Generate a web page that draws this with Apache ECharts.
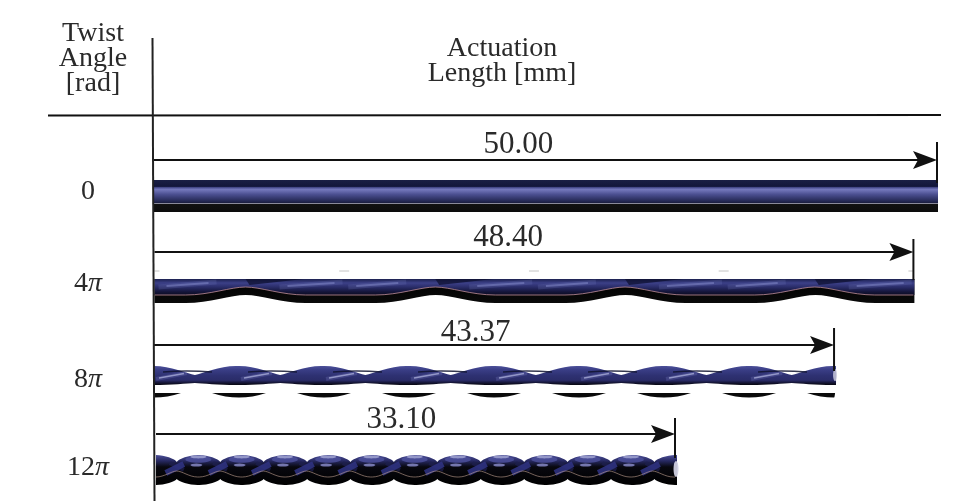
<!DOCTYPE html>
<html>
<head>
<meta charset="utf-8">
<style>html,body{margin:0;padding:0;background:#fff}#c{width:959px;height:501px}</style>
<script src="https://cdn.jsdelivr.net/npm/echarts@6/dist/echarts.min.js"></script>
</head>
<body>
<div id="c"></div>
<script>
// ---- data ----
const twistLabels = ['0', '4π', '8π', '12π'];
const twistMultiples = [0, 4, 8, 12];           // twist angle in units of π; also the number of lobes drawn
const actuationLengths = [50.00, 48.40, 43.37, 33.10];

// ---- per-row drawing style (pixel offsets relative to the row centre) ----
const FONT = '"Liberation Serif","DejaVu Serif",serif';
const ROW_STYLE = [
  { dx: 0,   arrow: -36, label: -51, frac: .466, tickUp: -18, tickDown: 23, pad: 8 },
  { dx: 1.5, arrow: -36, label: -50, frac: .466, tickUp: -13, tickDown: 28, pad: 8 },
  { dx: 1,   arrow: -35, label: -47, frac: .473, tickUp: -17, tickDown: 26, pad: 0 },
  { dx: 3,   arrow: -38, label: -52, frac: .473, tickUp: -16, tickDown: 24, pad: 8 }
];

function grad(stops) {
  return new echarts.graphic.LinearGradient(0, 0, 0, 1,
    stops.map(s => ({ offset: s[0], color: s[1] })));
}
// one scalloped edge of a rod; s (0..1) sets how cusped each pinch is
function edge(x0, x1, n, w, peak, pinch, dir, s) {
  const P = (x1 - x0) / n, f = v => v.toFixed(1);
  const py = pinch + .45 * s * (peak - pinch);
  const q = .25 - .17 * s;
  let d = '';
  const ks = [...Array(n).keys()];
  if (dir < 0) ks.reverse();
  for (const k of ks) {
    const p = x0 + (k + 0.48) * P;
    const a = dir > 0 ? -1 : 1;
    d += `L${f(p + a * w)} ${peak} C${f(p + a * .6 * w)} ${peak} ${f(p + a * q * w)} ${py} ${f(p)} ${pinch} `;
    d += `C${f(p - a * q * w)} ${py} ${f(p - a * .6 * w)} ${peak} ${f(p - a * w)} ${peak} `;
  }
  d += `L${f(dir > 0 ? x1 : x0)} ${peak} `;
  return d;
}
function body(x0, x1, n, w, top, bottom, stops, s) {
  const d = `M${x0} ${top.peak} ` +
    edge(x0, x1, n, w, top.peak, top.pinch, 1, s) +
    `L${x1} ${bottom.peak} ` +
    edge(x0, x1, n, w, bottom.peak, bottom.pinch, -1, s) + 'Z';
  return { type: 'path', shape: { pathData: d }, style: { fill: grad(stops) } };
}
function wave(x0, x1, n, w, peak, pinch, color, op) {
  return { type: 'path', shape: { pathData: `M${x0} ${peak} ` + edge(x0, x1, n, w, peak, pinch, 1, 0) },
    style: { fill: 'none', stroke: color, lineWidth: 1, opacity: op } };
}
function ell(cx, cy, rx, ry, color, op) {
  return { type: 'ellipse', shape: { cx, cy, rx, ry }, style: { fill: color, opacity: op } };
}
function stroke(d, color, lw, op) {
  return { type: 'path', shape: { pathData: d }, style: { fill: 'none', stroke: color, lineWidth: lw, opacity: op, lineCap: 'butt' } };
}

function rod(x0, x1, yc, n) {
  const out = [];
  if (n === 0) {
    out.push({ type: 'rect', shape: { x: x0, y: yc - 16, width: x1 - x0 + 1, height: 32 },
      style: { fill: grad([[0,'#1a1f45'],[.2,'#12163a'],[.24,'#4e5296'],[.3,'#7478bc'],[.45,'#4b4f90'],
        [.7,'#1d2148'],[.715,'#1a1a30'],[.72,'#8a8a9a'],[.75,'#8a8a9a'],[.76,'#111111'],[1,'#0c0c0c']]) } });
    return out;
  }
  const P = (x1 - x0) / n;
  if (n === 4) {
    const w = 60;
    out.push(body(x0, x1 + 1, n, w, { peak: yc - 9, pinch: yc - 9 }, { peak: yc + 15, pinch: yc + 7 },
      [[0,'#000'],[1,'#0a0a0a']], 0));
    out.push(body(x0, x1 + 1, n, w, { peak: yc - 9, pinch: yc - 9 }, { peak: yc + 7, pinch: yc - 1 },
      [[0,'#1c2150'],[.25,'#3c4088'],[.5,'#2a2d6a'],[.8,'#14153a'],[1,'#0c0c22']], 0));
    for (let k = 0; k < n; k++) {
      const c = x0 + k * P;
      for (const [a, b] of [[4, 62], [125, 188]]) {
        out.push(stroke(`M${c + a} ${yc - 1} L${c + b} ${yc - 6}`, '#7a80c4', 5, .2));
        out.push(stroke(`M${c + a + 8} ${yc - 2} L${c + b - 8} ${yc - 5}`, '#8f94d2', 2, .45));
      }
      const p = c + .48 * P;
      out.push({ type: 'path', shape: { pathData: `M${p} ${yc - 9} L${p + 58} ${yc - 9} L${p + 4} ${yc - 3} Z` },
        style: { fill: '#0e1030', opacity: .75 } });
    }
    out.push(wave(x0, x1, n, w, yc + 7, yc - 1, '#c08f9a', .8));
    // small grey marks above the rod
    for (let k = 0; k <= n; k++) {
      const c = x0 + k * P;
      out.push(stroke(`M${Math.max(x0, c - 5)} ${yc - 17} L${Math.min(x1, c + 5)} ${yc - 17}`, '#c4c4c4', 1, 1));
    }
  } else if (n === 8) {
    const w = 0.48 * P;
    out.push(body(x0, x1 + 2, n, w, { peak: yc - 14, pinch: yc - 5 }, { peak: yc + 5, pinch: yc + 3 },
      [[0,'#4c5099'],[.2,'#3a3e86'],[.5,'#2e3172'],[.75,'#2a2c68'],[.9,'#12122e'],[1,'#070710']], .4));
    for (let k = 0; k <= n; k++) {
      const c = x0 + k * P, L = Math.max(x0, c - 27), R = Math.min(x1 + 1, c + 27);
      if (k < n) {
        out.push(stroke(`M${c + 9} ${yc - 8} Q${c + 32} ${yc - 10} ${c + 58} ${yc - 8}`, '#111430', 1.5, .85));
        out.push(stroke(`M${c + 2} ${yc - 1} L${c + 33} ${yc - 7}`, '#6f74b8', 4, .3));
        out.push(stroke(`M${c + 5} ${yc - 2} L${c + 30} ${yc - 6.5}`, '#aeb1dc', 1.6, .75));
      }
      out.push({ type: 'path', shape: { pathData:
        `M${L} ${yc + 13} L${R} ${yc + 13} ` +
        (R > c ? `Q${c + .5 * (R - c)} ${yc + 17.5} ${c} ${yc + 17.5} ` : '') +
        (L < c ? `Q${c - .5 * (c - L)} ${yc + 17.5} ${L} ${yc + 13} ` : '') + 'Z' },
        style: { fill: '#0a0a0a' } });
    }
    out.push(ell(x1 + 1, yc - 5, 2, 6, '#c9c9dc', .85));
  } else {
    const w = 0.48 * P;
    out.push(body(x0, x1 + 2, n, w, { peak: yc - 17, pinch: yc - 10 }, { peak: yc + 13, pinch: yc + 7 },
      [[0,'#4d5099'],[.2,'#262860'],[.4,'#08080f'],[1,'#000000']], 1));
    for (let k = 0; k < n; k++) {
      const p = x0 + (k + .48) * P, c = p + P / 2;
      out.push(stroke(`M${p - 7} ${yc - 9} L${p + 7} ${yc - 2}`, '#1e2050', 4, .7));
      out.push(stroke(`M${p - 11} ${yc + 1} L${p + 7} ${yc - 8}`, '#2f3280', 6, .9));
      if (k < n - 1) {
        out.push(ell(c, yc - 12.5, 13, 3.2, '#4f529e', .8));
        out.push(ell(c, yc - 15, 8, 1.4, '#b4b6de', .7));
        out.push(ell(c - 2, yc - 7, 6, 1.6, '#7f82bc', .9));
      }
    }
    out.push(wave(x0, x1, n, w, yc + 5, yc - 1, '#c0a090', .6));
    out.push(ell(x1 + 1, yc - 3, 2.5, 8, '#d0d0e2', .95));
  }
  return out;
}

function renderRow(params, api) {
  const i = api.value(0);
  const L = api.value(1);
  const st = ROW_STYLE[i];
  const o = api.coord([0, i]);
  const e = api.coord([L, i]);
  const yc = o[1];
  const x0 = o[0] + st.dx, x1 = e[0] + st.dx;
  const ya = yc + st.arrow;
  const kids = rod(x0, x1, yc, twistMultiples[i]);
  // dimension arrow
  kids.push({ type: 'line', shape: { x1: x0, y1: ya, x2: x1 - 10, y2: ya }, style: { stroke: '#111', lineWidth: 2 } });
  kids.push({ type: 'path', shape: { pathData:
    `M${x1} ${ya} L${x1 - 24} ${ya - 9} L${x1 - 19} ${ya} L${x1 - 24} ${ya + 9} Z` }, style: { fill: '#111' } });
  // end tick
  kids.push({ type: 'line', shape: { x1: x1, y1: ya + st.tickUp, x2: x1, y2: ya + st.tickDown }, style: { stroke: '#111', lineWidth: 2 } });
  // length label
  kids.push({ type: 'text', style: { text: L.toFixed(2), x: x0 + st.frac * (x1 - x0), y: yc + st.label,
    font: '31px ' + FONT, fill: '#2a2a2a', align: 'center', verticalAlign: 'middle' } });
  return { type: 'group', children: kids };
}

const labelRich = {};
ROW_STYLE.forEach((st, i) => {
  labelRich['n' + i] = { fontFamily: FONT, fontSize: 28, color: '#2a2a2a', padding: [0, 0, st.pad, 0] };
  labelRich['p' + i] = { fontFamily: FONT, fontSize: 28, fontStyle: 'italic', color: '#2a2a2a', padding: [0, 0, st.pad, 0] };
});
const chart = echarts.init(document.getElementById('c'), null, { renderer: 'canvas' });
chart.setOption({
  animation: false,
  backgroundColor: '#fff',
  grid: { left: 153, top: 150, width: 784, height: 368, containLabel: false, outerBoundsMode: 'none' },
  xAxis: { type: 'value', min: 0, max: 50, show: false },
  yAxis: {
    type: 'category', inverse: true,
    data: twistLabels,
    axisLine: { show: false }, axisTick: { show: false }, splitLine: { show: false },
    axisLabel: { show: true, interval: 0, margin: 65, align: 'center', verticalAlign: 'middle',
      fontFamily: FONT, fontSize: 28, color: '#2a2a2a', rich: labelRich,
      formatter: (v, i) => {
        const m = v.split('π');
        return `{n${i}|${m[0]}}` + (m.length > 1 ? `{p${i}|π}` : '');
      } }
  },
  graphic: [
    { type: 'line', z: 20, shape: { x1: 48, y1: 115.5, x2: 941, y2: 115 }, style: { stroke: '#111', lineWidth: 2 } },
    { type: 'line', z: 20, shape: { x1: 152.5, y1: 38, x2: 154.5, y2: 501 }, style: { stroke: '#222', lineWidth: 2 } },
    { type: 'text', z: 20, style: { text: 'Twist', x: 93, y: 34, font: '28px ' + FONT, fill: '#2a2a2a', align: 'center', verticalAlign: 'middle' } },
    { type: 'text', z: 20, style: { text: 'Angle', x: 93, y: 59, font: '28px ' + FONT, fill: '#2a2a2a', align: 'center', verticalAlign: 'middle' } },
    { type: 'text', z: 20, style: { text: '[rad]', x: 93, y: 84, font: '28px ' + FONT, fill: '#2a2a2a', align: 'center', verticalAlign: 'middle' } },
    { type: 'text', z: 20, style: { text: 'Actuation', x: 502, y: 49, font: '28px ' + FONT, fill: '#2a2a2a', align: 'center', verticalAlign: 'middle' } },
    { type: 'text', z: 20, style: { text: 'Length [mm]', x: 502, y: 74, font: '28px ' + FONT, fill: '#2a2a2a', align: 'center', verticalAlign: 'middle' } }
  ],
  series: [{
    type: 'custom', silent: true, clip: false,
    encode: { x: 1, y: 0 },
    renderItem: renderRow,
    data: actuationLengths.map((v, i) => [i, v])
  }]
});
</script>
</body>
</html>
